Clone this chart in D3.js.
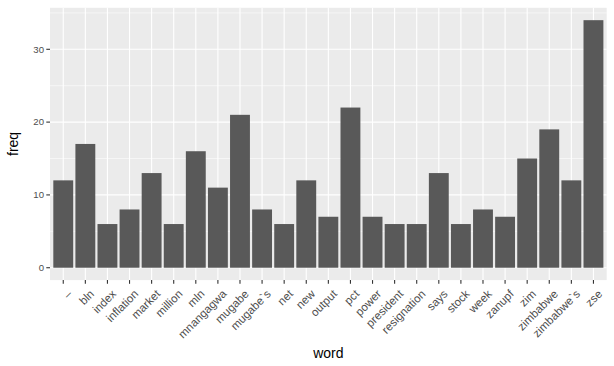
<!DOCTYPE html>
<html><head><meta charset="utf-8">
<script src="https://cdn.jsdelivr.net/npm/d3@7"></script>
<style>body{margin:0;background:#fff}svg{display:block}</style>
</head><body>
<script>
const words = ["–","bln","index","inflation","market","million","mln","mnangagwa","mugabe","mugabe`s","net","new","output","pct","power","president","resignation","says","stock","week","zanupf","zim","zimbabwe","zimbabwe`s","zse"];
const freq = [12,17,6,8,13,6,16,11,21,8,6,12,7,22,7,6,6,13,6,8,7,15,19,12,34];
const yTicks = [0,10,20,30];
const yMinor = [5,15,25,35];

const W = 614, H = 366;
const panel = {left: 50, top: 7.8, right: 606.7, bottom: 280.1};
const svg = d3.select("body").append("svg").attr("width", W).attr("height", H);

// ggplot discrete scale: 0.6 units expansion each side, bars 0.9 wide
const x = d3.scalePoint().domain(words)
  .range([panel.left, panel.right]).padding(0.6);
const unit = x.step();
const bw = 0.9 * unit;

const y = d3.scaleLinear().domain([-1.7, 35.7]).range([panel.bottom, panel.top]);

svg.append("rect").attr("x", panel.left).attr("y", panel.top)
  .attr("width", panel.right - panel.left).attr("height", panel.bottom - panel.top)
  .attr("fill", "#EBEBEB");

const g = svg.append("g");
g.selectAll(".ymin").data(yMinor).join("line")
  .attr("x1", panel.left).attr("x2", panel.right)
  .attr("y1", d => y(d)).attr("y2", d => y(d))
  .attr("stroke", "#fff").attr("stroke-width", 0.55);
g.selectAll(".ymaj").data(yTicks).join("line")
  .attr("x1", panel.left).attr("x2", panel.right)
  .attr("y1", d => y(d)).attr("y2", d => y(d))
  .attr("stroke", "#fff").attr("stroke-width", 1.1);
g.selectAll(".xmaj").data(words).join("line")
  .attr("x1", d => x(d)).attr("x2", d => x(d))
  .attr("y1", panel.top).attr("y2", panel.bottom)
  .attr("stroke", "#fff").attr("stroke-width", 1.1);

svg.append("g").selectAll("rect").data(words).join("rect")
  .attr("x", d => x(d) - bw / 2).attr("width", bw)
  .attr("y", (d, i) => y(freq[i])).attr("height", (d, i) => y(0) - y(freq[i]))
  .attr("fill", "#595959");

const font = "Liberation Sans, Arial, sans-serif";
// y axis
const ya = svg.append("g");
ya.selectAll("line").data(yTicks).join("line")
  .attr("x1", panel.left - 3.7).attr("x2", panel.left)
  .attr("y1", d => y(d)).attr("y2", d => y(d))
  .attr("stroke", "#333").attr("stroke-width", 1.1);
ya.selectAll("text").data(yTicks).join("text")
  .attr("x", panel.left - 6).attr("y", d => y(d)).attr("dy", "0.35em")
  .attr("text-anchor", "end").attr("font-family", font)
  .attr("font-size", 9.6).attr("fill", "#4D4D4D").text(d => d);

// x axis
const xa = svg.append("g");
xa.selectAll("line").data(words).join("line")
  .attr("x1", d => x(d)).attr("x2", d => x(d))
  .attr("y1", panel.bottom).attr("y2", panel.bottom + 3.7)
  .attr("stroke", "#333").attr("stroke-width", 1.1);
xa.selectAll("text").data(words).join("text")
  .attr("transform", d => `translate(${x(d) + 9.5},${panel.bottom + 14.5}) rotate(-45)`)
  .attr("text-anchor", "end")
  .attr("font-family", font)
  .attr("font-size", 11.5).attr("fill", "#4D4D4D").text(d => d);

svg.append("text").attr("x", (panel.left + panel.right) / 2).attr("y", 358)
  .attr("text-anchor", "middle").attr("font-family", font)
  .attr("font-size", 14).attr("fill", "#000").text("word");
svg.append("text").attr("transform", `translate(18,${(panel.top + panel.bottom) / 2}) rotate(-90)`)
  .attr("text-anchor", "middle").attr("font-family", font)
  .attr("font-size", 14).attr("fill", "#000").text("freq");
</script>
</body></html>
